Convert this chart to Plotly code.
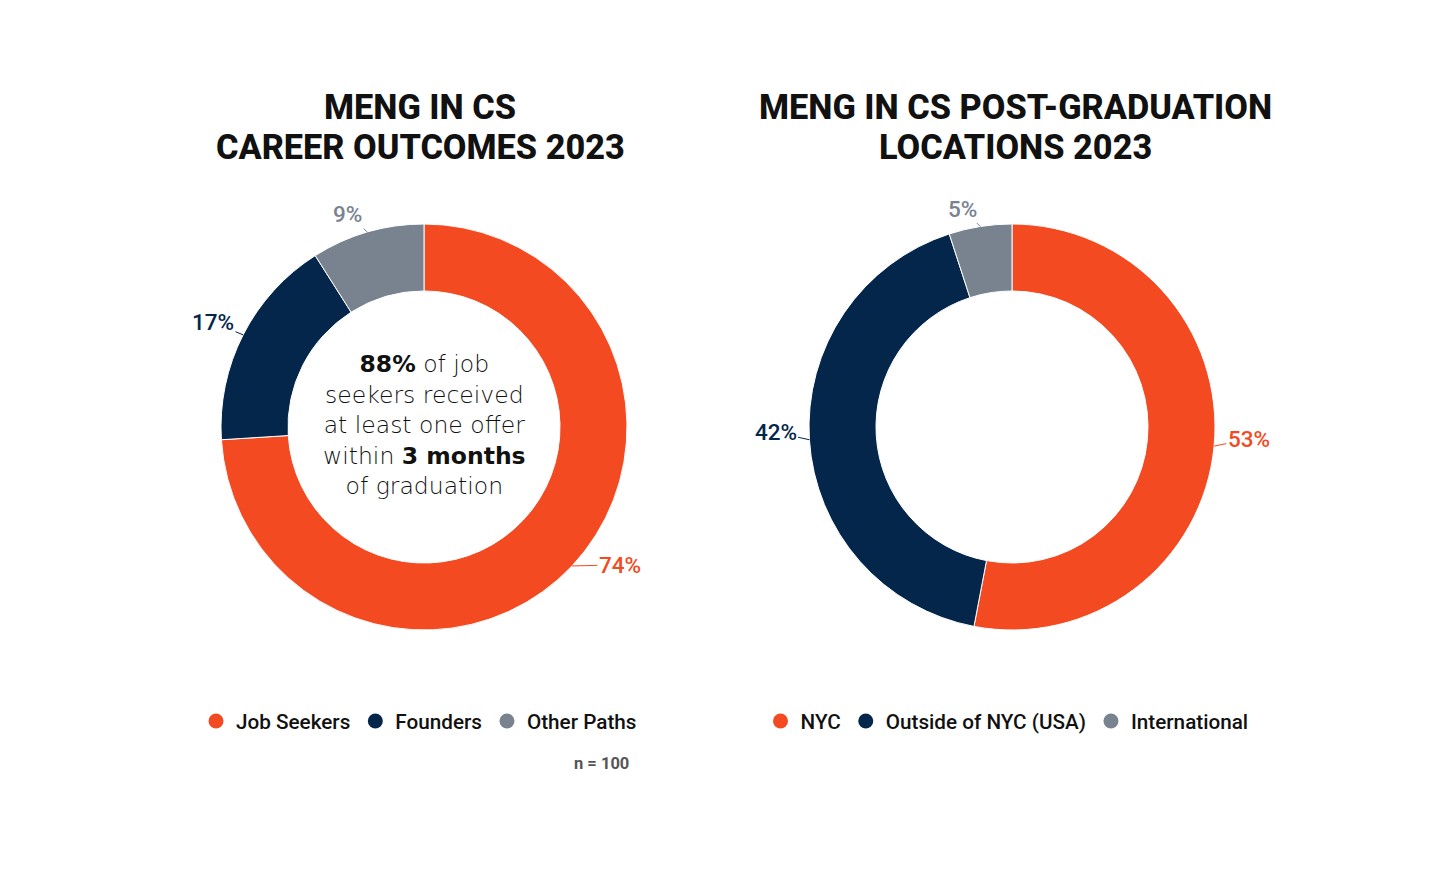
import math
import plotly.graph_objects as go

# ---- data ----
outcome_labels = ["Job Seekers", "Founders", "Other Paths"]
outcome_values = [74, 17, 9]
location_labels = ["NYC", "Outside of NYC (USA)", "International"]
location_values = [53, 42, 5]
title_lines = [["MENG IN CS", "CAREER OUTCOMES 2023"], ["MENG IN CS POST-GRADUATION", "LOCATIONS 2023"]]
center_text = "<b>88%</b> of job<br>seekers received<br>at least one offer<br>within <b>3 months</b><br>of graduation"
sample_note = "n = 100"

colors = ["#F34A21", "#03264A", "#78838F"]
W, H = 1440, 869
R = 203  # outer radius in px
centers = [(424, 427), (1012, 427)]
title_x = [420, 1015]
title_y = [107, 147]

fig = go.Figure()
annotations = []

for i, (labels, values) in enumerate([(outcome_labels, outcome_values), (location_labels, location_values)]):
    cx, cy = centers[i]
    dom_x = [(cx - R) / W, (cx + R) / W]
    dom_y = [(H - cy - R) / H, (H - cy + R) / H]
    fig.add_trace(go.Pie(
        labels=labels, values=values, hole=0.67, sort=False, direction="clockwise",
        rotation=0, marker=dict(colors=colors, line=dict(color="white", width=1)),
        textinfo="none", hoverinfo="label+percent", showlegend=False,
        domain=dict(x=dom_x, y=dom_y),
    ))
    # outside labels with leader lines computed from the data
    total = sum(values)
    cum = 0
    for v, c in zip(values, colors):
        mid = (cum + v / 2) / total * 2 * math.pi
        cum += v
        s, co = math.sin(mid), math.cos(mid)
        px = cx + R * s
        py = cy - R * co
        ax = (1 if s >= 0 else -1) * (15 + 17 * abs(s) + 30 * max(0.0, -co))
        ay = -8 - 10 * co
        annotations.append(dict(
            x=px / W, y=1 - py / H, xref="paper", yref="paper",
            text=f"{v}%", showarrow=True, arrowhead=0, arrowwidth=1, arrowcolor=c,
            ax=ax, ay=ay, standoff=0,
            font=dict(family="Roboto", size=22.5, color=c, weight=500),
        ))
    # legend via scatter dummies
    for lab, c in zip(labels, colors):
        fig.add_trace(go.Scatter(
            x=[None], y=[None], mode="markers", name=lab,
            marker=dict(symbol="circle", size=15, color=c),
            legend="legend" if i == 0 else "legend2", showlegend=True,
        ))
    # title lines
    for line, ty in zip(title_lines[i], title_y):
        annotations.append(dict(x=title_x[i] / W, y=1 - ty / H, xref="paper", yref="paper", text=line,
                                showarrow=False, xanchor="center", yanchor="middle",
                                font=dict(family="Roboto", size=34.3, color="#111111", weight=800)))

annotations.append(dict(x=centers[0][0] / W, y=1 - 425 / H, xref="paper", yref="paper", text=center_text,
                        showarrow=False, xanchor="center", yanchor="middle",
                        font=dict(family="DejaVu Sans", size=23.5, color="#111111", weight=300)))
annotations.append(dict(x=631 / W, y=1 - 763 / H, xref="paper", yref="paper", text=f"<b>{sample_note}</b>",
                        showarrow=False, xanchor="right", yanchor="middle",
                        font=dict(family="Roboto", size=16.5, color="#555555")))

legend_font = dict(family="Roboto", size=20.7, color="#111111", weight=500)
fig.update_layout(
    width=W, height=H, margin=dict(l=0, r=0, t=0, b=0),
    paper_bgcolor="white", plot_bgcolor="white",
    xaxis=dict(visible=False, domain=[0, 0.001]), yaxis=dict(visible=False, domain=[0, 0.001]),
    annotations=annotations,
    legend=dict(orientation="h", x=419 / W, y=1 - 721 / H, xanchor="center", yanchor="middle",
                font=legend_font, bgcolor="rgba(0,0,0,0)"),
    legend2=dict(orientation="h", x=1007 / W, y=1 - 721 / H, xanchor="center", yanchor="middle",
                 font=legend_font, bgcolor="rgba(0,0,0,0)"),
)

fig.write_html("out.html")
